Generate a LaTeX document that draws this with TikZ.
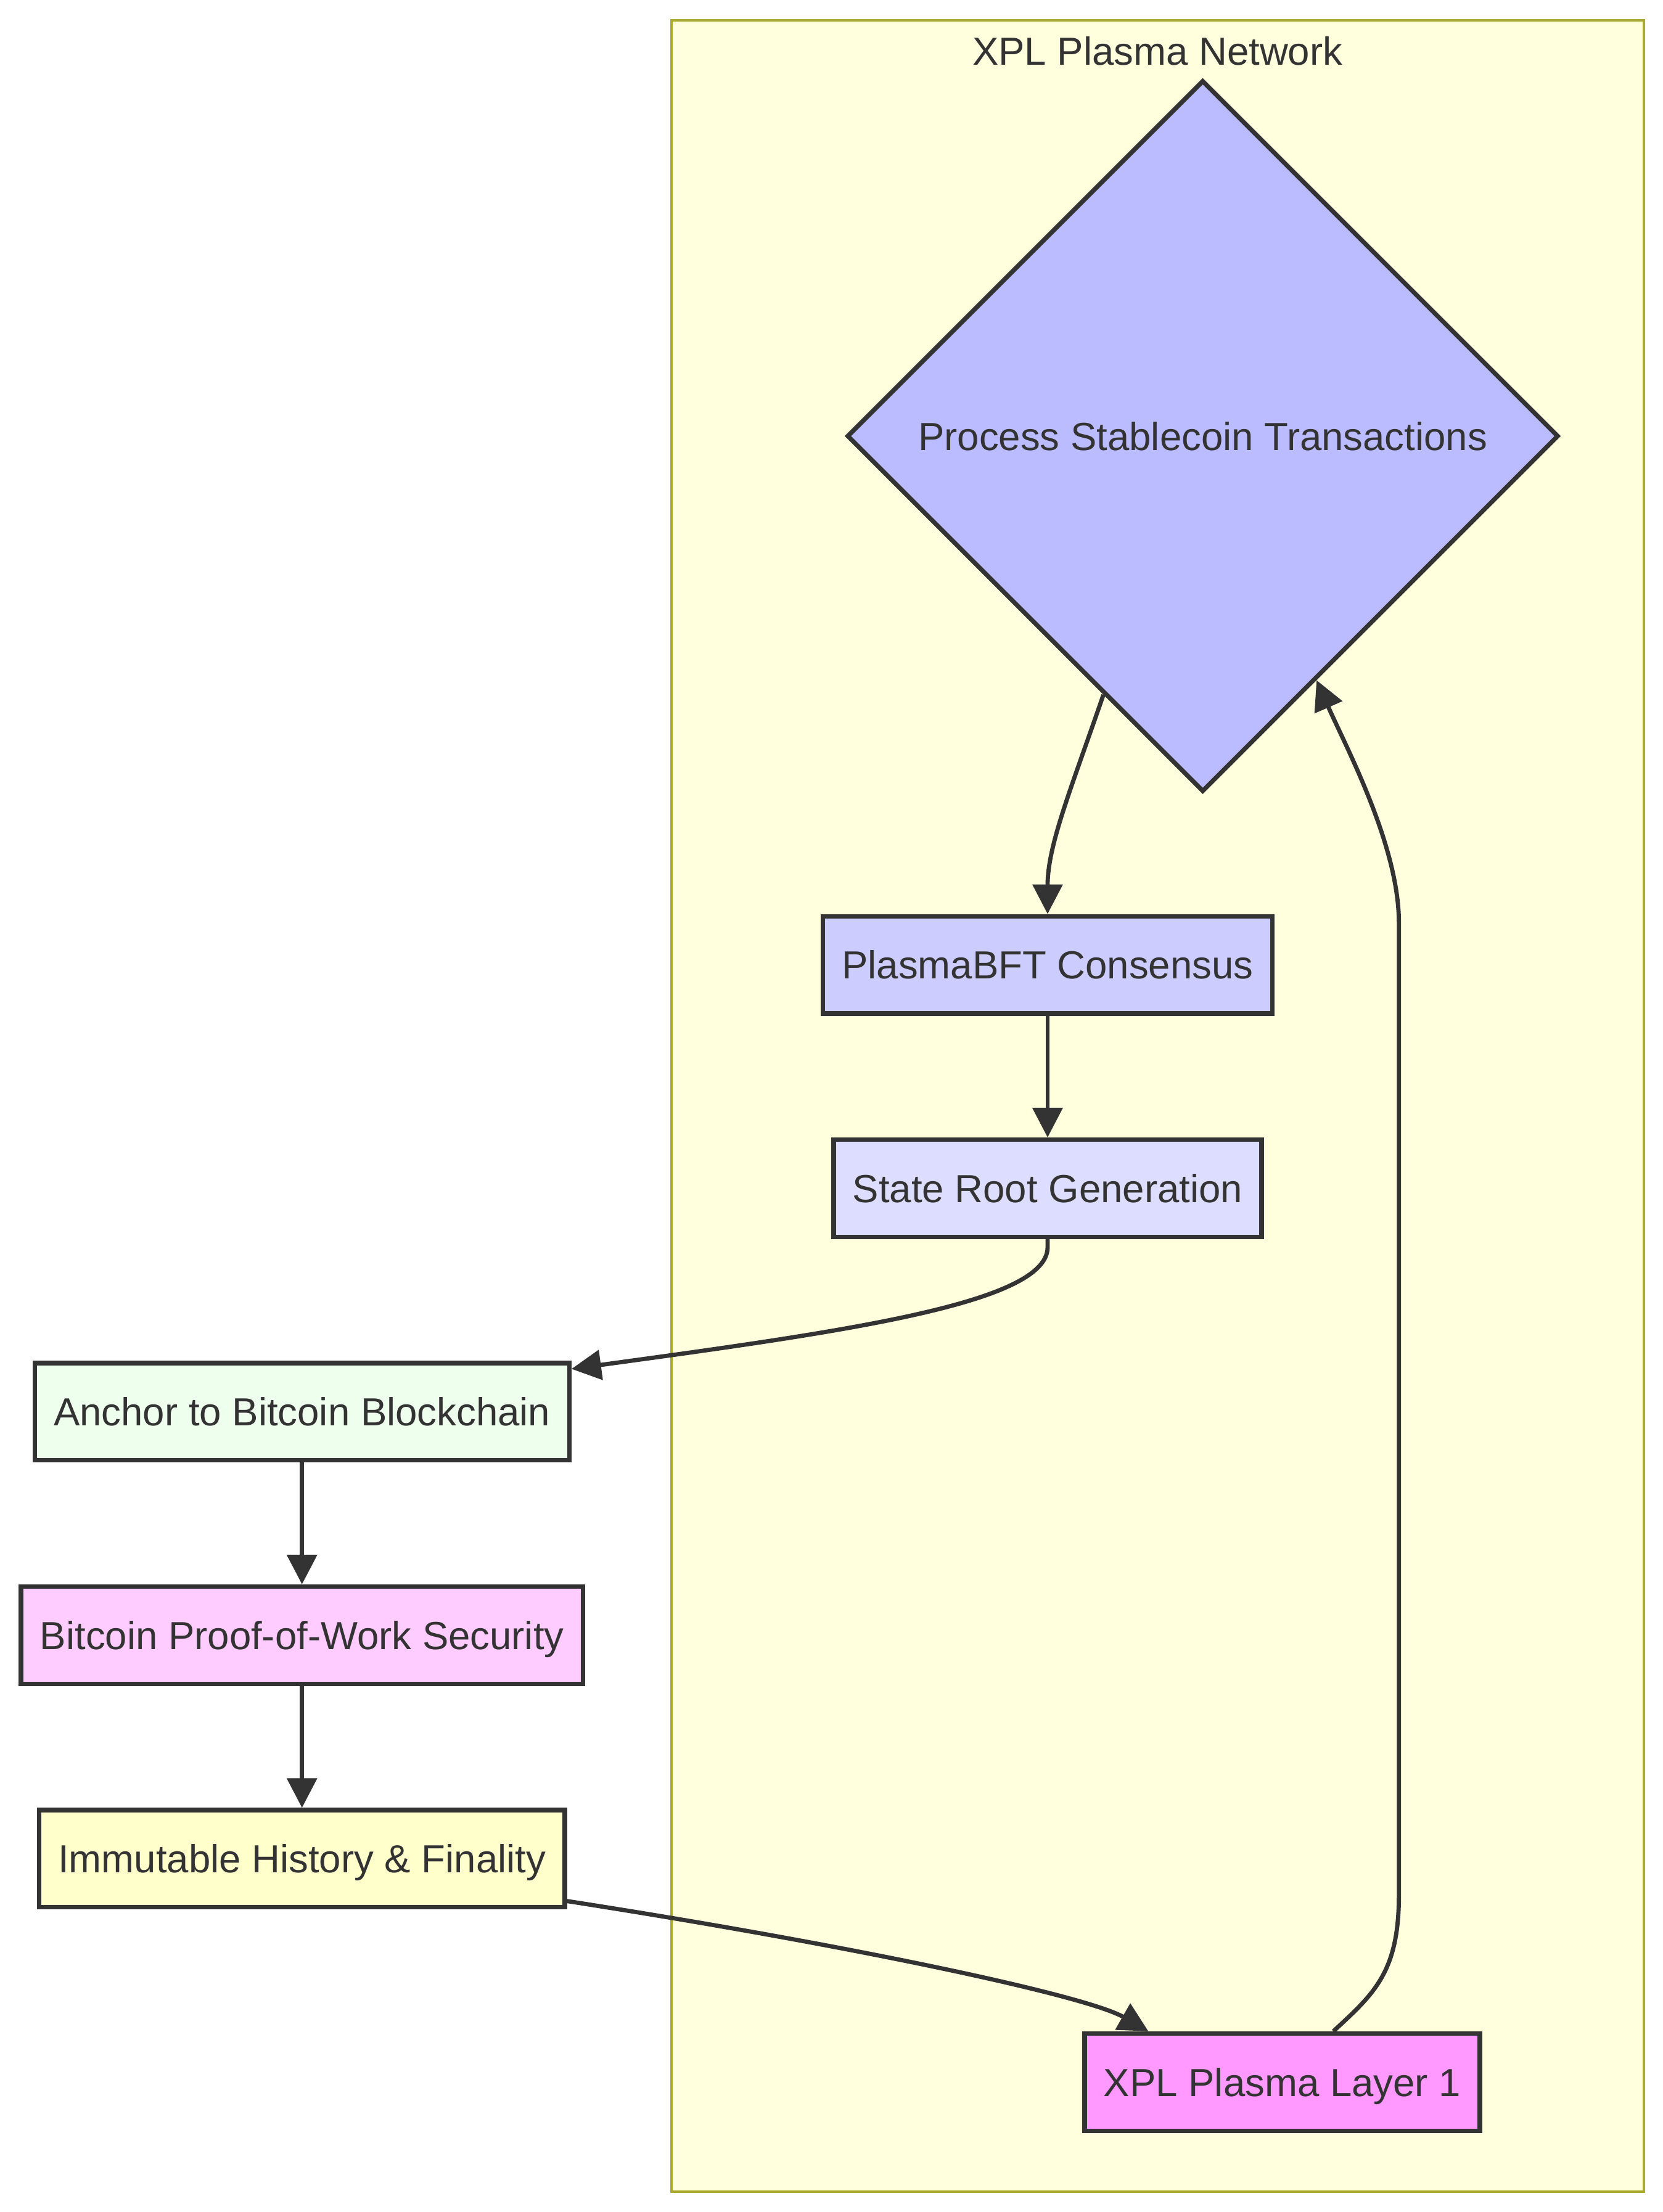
\documentclass[tikz,border=0pt]{standalone}
\usepackage{fontspec}
\setmainfont{Liberation Sans}
\usetikzlibrary{shapes.geometric,arrows.meta}
\definecolor{ink}{HTML}{333333}
\definecolor{clfill}{HTML}{FFFFDE}
\definecolor{cldraw}{HTML}{AAAA33}
\definecolor{cdiam}{HTML}{BBBBFF}
\definecolor{cpbft}{HTML}{CCCCFF}
\definecolor{csrg}{HTML}{DDDDFF}
\definecolor{canc}{HTML}{EEFFEE}
\definecolor{cbpow}{HTML}{FFCCFF}
\definecolor{cimm}{HTML}{FFFFCC}
\definecolor{cxpl}{HTML}{FF99FF}
\pgfdeclarelayer{bg}
\pgfdeclarelayer{edges}
\pgfsetlayers{bg,edges,main}
\tikzset{
  lbl/.style={text=ink, font=\fontsize{27.8pt}{33pt}\selectfont},
  box/.style={lbl, draw=ink, line width=3.2pt, rectangle, inner xsep=13.5pt, inner ysep=0pt,
    minimum height=69pt, text height=19.9pt, text depth=0pt},
  decision/.style={lbl, draw=ink, line width=3.2pt, diamond, inner sep=0pt,
    minimum width=505pt, minimum height=505pt, text height=19.9pt, text depth=0pt},
  edge/.style={draw=ink, line width=3pt, -{Triangle[length=21pt,width=21pt]}},
  cluster/.style={fill=clfill, draw=cldraw, line width=1.7pt}
}
\begin{document}
\begin{tikzpicture}[x=1pt,y=-1pt]
\useasboundingbox (0,0) rectangle (1179.7,1570);
% cluster
\begin{pgfonlayer}{bg}
\draw[cluster] (476.4,14.6) rectangle (1166.4,1555.6);
\end{pgfonlayer}
\node[lbl, anchor=base] (cltitle) at (821.4,46) {XPL Plasma Network};
% nodes
\node[decision, fill=cdiam] (diam) at (853.5,309.5) {Process Stablecoin Transactions};
\node[box, fill=cpbft] (pbft) at (743.4,684.8) {PlasmaBFT Consensus};
\node[box, fill=csrg] (srg) at (743.4,843.4) {State Root Generation};
\node[box, fill=canc] (anc) at (214.3,1002.0) {Anchor to Bitcoin Blockchain};
\node[box, fill=cbpow] (bpow) at (214.3,1160.6) {Bitcoin Proof-of-Work Security};
\node[box, fill=cimm] (imm) at (214.3,1319.2) {Immutable History \& Finality};
\node[box, fill=cxpl] (xpl) at (909.9,1477.8) {XPL Plasma Layer 1};
% edges
\begin{pgfonlayer}{edges}
\draw[edge] (diam.249.5) .. controls (760,560) and (743.4,600) .. (pbft.north);
\draw[edge] (pbft) -- (srg);
\draw[edge] (srg.south) -- ++(0,6) .. controls (742.9,925) and (600,945) .. ([yshift=30.4pt]anc.east);
\draw[edge] (anc) -- (bpow);
\draw[edge] (bpow) -- (imm);
\draw[edge] ([yshift=-30.1pt]imm.east) .. controls (600,1380) and (770,1416) .. ([xshift=-95pt]xpl.north);
\draw[edge] ([xshift=36.3pt]xpl.north) .. controls (975,1415) and (992.7,1400) .. (992.7,1345)
  -- (992.7,655) .. controls (992.7,600) and (955,530) .. (diam.295);
\end{pgfonlayer}
\end{tikzpicture}
\end{document}
